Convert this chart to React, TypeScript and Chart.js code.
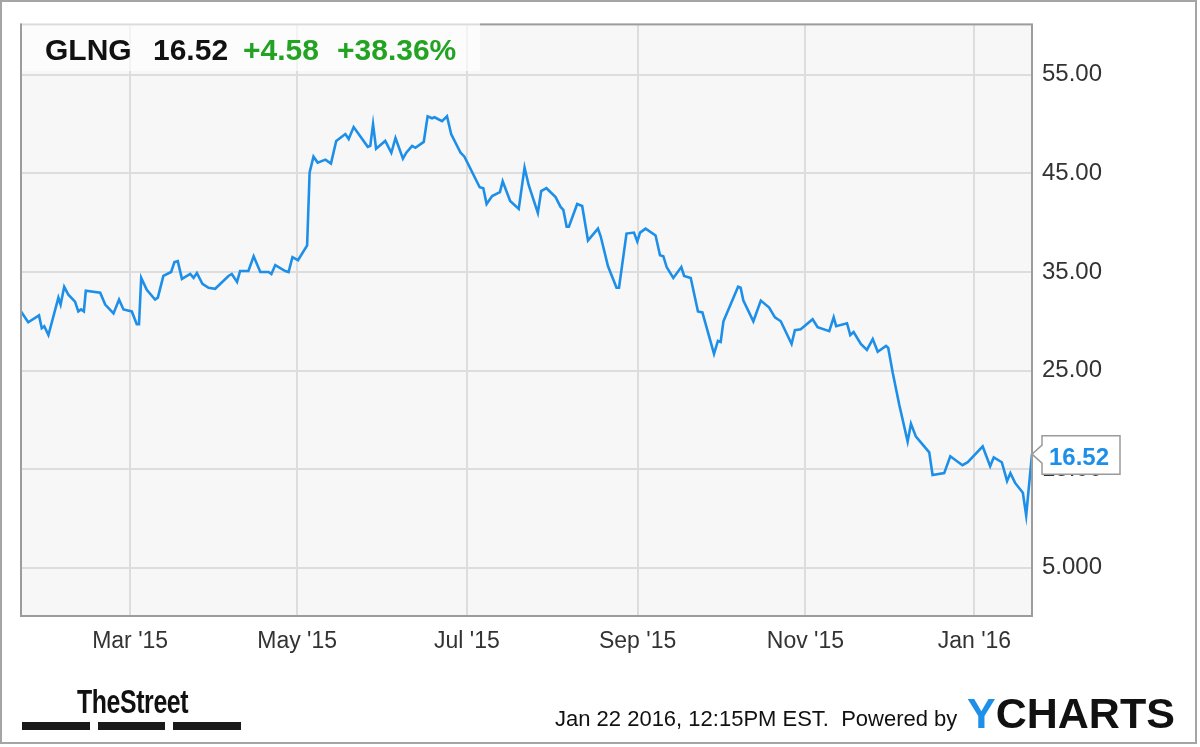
import React, { useEffect, useRef } from "react";
import { Chart, registerables } from "chart.js";

Chart.register(...registerables);

const tickerSymbol = "GLNG";
const lastPriceText = "16.52";
const changeText = "+4.58";
const changePctText = "+38.36%";
const timestampText = "Jan 22 2016, 12:15PM EST.  Powered by";

const monthLabels = ["Mar '15", "May '15", "Jul '15", "Sep '15", "Nov '15", "Jan '16"];
// day offsets from Jan 22 2015
const monthTickDays = [39.4, 99.7, 161, 222.6, 283.2, 344.2];
const priceTicks = [5, 15, 25, 35, 45, 55];

const tradingDays = [
  0, 2.6, 6.5, 7.5, 8.4, 9.9, 13.5, 14.3, 15.6, 17.1, 19.5, 20.7, 21.7, 22.7, 23.4, 28.6, 30.4, 33.4, 35.4, 37.0,
  40.0, 41.8, 42.6, 43.4, 45.4, 48.4, 49.4, 51.4, 54.2, 55.4, 56.6, 58.1, 61.1, 62.3, 63.5, 65.5, 67.7, 70.1, 74.9, 76.1,
  78.0, 79.1, 82.1, 84.0, 86.4, 89.4, 90.4, 91.8, 95.4, 96.6, 98.0, 100.0, 103.3, 104.2, 105.6, 107.1, 109.9, 111.9, 113.8, 117.1,
  118.3, 120.1, 125.2, 126.1, 127.1, 128.2, 131.5, 133.7, 135.2, 137.9, 139.1, 141.2, 142.4, 145.4, 146.8, 148.4, 149.3, 152.0, 153.8, 155.3,
  158.7, 160.1, 165.6, 166.9, 168.1, 170.1, 172.9, 173.9, 176.6, 179.7, 181.8, 183.3, 186.6, 187.8, 189.7, 193.0, 194.8, 195.8, 197.0, 197.8,
  200.8, 202.6, 204.7, 208.3, 209.3, 211.9, 215.0, 215.9, 218.6, 221.3, 222.5, 223.5, 225.5, 229.1, 230.7, 231.9, 233.1, 235.5, 238.4, 239.4,
  241.8, 244.4, 246.0, 250.2, 251.6, 252.6, 253.6, 258.9, 259.8, 260.8, 264.4, 267.1, 270.1, 272.2, 274.3, 278.2, 279.4, 281.5, 285.8, 287.6,
  291.8, 293.4, 294.3, 298.2, 299.4, 300.6, 303.2, 305.4, 307.5, 309.3, 312.3, 313.1, 314.7, 317.1, 320.1, 321.3, 323.1, 327.9, 329.1, 333.3,
  335.5, 339.9, 341.8, 347.2, 349.9, 351.2, 354.1, 356.0, 357.2, 358.9, 361.7, 362.9, 365.0,
];

const prices = [
  31.0, 29.9, 30.6, 29.3, 29.5, 28.6, 32.4, 31.7, 33.5, 32.7, 32.0, 31.0, 31.2, 31.0, 33.1, 32.9, 31.7, 30.8, 32.2, 31.2,
  31.0, 29.7, 29.7, 34.4, 33.2, 32.2, 32.4, 34.6, 35.0, 36.0, 36.1, 34.3, 34.8, 34.4, 34.9, 33.8, 33.4, 33.3, 34.6, 34.8,
  34.0, 35.1, 35.1, 36.6, 35.0, 35.0, 34.8, 35.7, 35.1, 35.0, 36.5, 36.2, 37.7, 45.1, 46.7, 46.1, 46.4, 46.0, 48.3, 49.0,
  48.5, 49.7, 47.7, 47.8, 50.0, 47.5, 48.3, 47.1, 48.6, 46.5, 47.1, 47.8, 47.6, 48.2, 50.8, 50.6, 50.7, 50.3, 50.8, 49.0,
  47.1, 46.7, 43.6, 43.5, 41.9, 42.7, 43.1, 44.2, 42.2, 41.4, 45.6, 43.8, 41.0, 43.2, 43.5, 42.6, 41.6, 41.3, 39.6, 39.6,
  41.9, 41.7, 38.2, 39.4, 38.6, 35.6, 33.4, 33.4, 38.9, 39.0, 38.1, 39.0, 39.4, 38.7, 36.7, 36.6, 35.5, 34.4, 35.5, 34.6,
  34.4, 31.0, 30.9, 26.7, 28.0, 27.9, 30.0, 33.5, 33.4, 32.1, 30.0, 32.1, 31.4, 30.4, 30.0, 27.7, 29.1, 29.2, 30.2, 29.4,
  29.0, 30.4, 29.5, 29.8, 28.6, 28.9, 27.7, 27.1, 28.2, 26.9, 27.5, 27.3, 24.8, 21.5, 17.8, 19.6, 18.3, 16.7, 14.4, 14.6,
  16.3, 15.4, 15.7, 17.3, 15.3, 16.2, 15.7, 13.8, 14.6, 13.6, 12.6, 10.3, 16.52,
];

const LINE_BLUE = "#1e8fe8";
const FONT = "'Liberation Sans', Arial, sans-serif";

const framePlugin = {
  id: "framePlugin",
  beforeDraw(chart: any) {
    const { ctx, chartArea } = chart;
    ctx.save();
    ctx.fillStyle = "#f7f7f7";
    ctx.fillRect(chartArea.left, chartArea.top, chartArea.right - chartArea.left, chartArea.bottom - chartArea.top);
    ctx.restore();
  },
  afterDraw(chart: any) {
    const { ctx, chartArea } = chart;
    ctx.save();
    ctx.strokeStyle = "#9c9c9c";
    ctx.lineWidth = 2;
    ctx.strokeRect(chartArea.left, chartArea.top, chartArea.right - chartArea.left, chartArea.bottom - chartArea.top);

    // last price label
    const meta = chart.getDatasetMeta(0);
    const last = meta.data[meta.data.length - 1];
    const px = chartArea.right;
    const py = last.y;
    const bl = px + 10;
    const br = px + 88;
    const bt = py - 18.5;
    const bb = py + 20;
    ctx.beginPath();
    ctx.moveTo(bl, bt);
    ctx.lineTo(br, bt);
    ctx.lineTo(br, bb);
    ctx.lineTo(bl, bb);
    ctx.lineTo(bl, py + 9);
    ctx.lineTo(px, py);
    ctx.lineTo(bl, py - 9);
    ctx.closePath();
    ctx.fillStyle = "#ffffff";
    ctx.fill();
    ctx.strokeStyle = "#9a9a9a";
    ctx.lineWidth = 1.5;
    ctx.stroke();
    ctx.fillStyle = LINE_BLUE;
    ctx.font = `bold 24px ${FONT}`;
    ctx.textBaseline = "alphabetic";
    ctx.textAlign = "left";
    const lastVal = prices[prices.length - 1];
    ctx.fillText(lastVal.toFixed(2), bl + 7, py + 10.5);
    ctx.restore();
  },
};

function baselineTop(baseline: number, size: number) {
  return baseline - 0.8465 * size;
}

export default function App() {
  const canvasRef = useRef<HTMLCanvasElement | null>(null);

  useEffect(() => {
    const canvas = canvasRef.current;
    if (!canvas) return;
    const chart = new Chart(canvas, {
      type: "line",
      data: {
        datasets: [
          {
            data: tradingDays.map((d, i) => ({ x: d, y: prices[i] })),
            borderColor: LINE_BLUE,
            borderWidth: 2.6,
            pointRadius: 0,
            tension: 0,
            fill: false,
          },
        ],
      },
      options: {
        animation: false,
        responsive: false,
        devicePixelRatio: 1,
        layout: { padding: { left: 21, top: 21, right: 0, bottom: 0 } },
        plugins: { legend: { display: false }, tooltip: { enabled: false }, title: { display: false } },
        scales: {
          x: {
            type: "linear",
            position: "bottom",
            min: 0,
            max: 365,
            bounds: "data",
            afterBuildTicks: (s: any) => {
              s.ticks = monthTickDays.map((v) => ({ value: v }));
            },
            afterFit: (s: any) => {
              s.height = 131;
            },
            ticks: {
              autoSkip: false,
              maxRotation: 0,
              minRotation: 0,
              padding: 12,
              color: "#333333",
              font: { family: FONT, size: 23 },
              callback: (_v: any, i: number) => monthLabels[i],
            },
            grid: { color: "#dddddd", lineWidth: 2, drawTicks: false },
            border: { display: false },
          },
          y: {
            type: "linear",
            position: "right",
            min: 0.1,
            max: 60.12,
            bounds: "data",
            afterBuildTicks: (s: any) => {
              s.ticks = priceTicks.map((v) => ({ value: v }));
            },
            afterFit: (s: any) => {
              s.width = 168;
            },
            ticks: {
              padding: 10,
              color: "#333333",
              font: { family: FONT, size: 24 },
              callback: (v: any) => (Number(v) < 10 ? Number(v).toFixed(3) : Number(v).toFixed(2)),
            },
            grid: { color: "#dddddd", lineWidth: 2, drawTicks: false },
            border: { display: false },
          },
        },
      } as any,
      plugins: [framePlugin],
    });
    return () => chart.destroy();
  }, []);

  const hdr = 30;
  const hdrTop = baselineTop(60, hdr);
  const hdrStyle = (left: number, color: string): React.CSSProperties => ({
    position: "absolute",
    left,
    top: hdrTop,
    fontFamily: FONT,
    fontWeight: "bold",
    fontSize: hdr,
    lineHeight: `${hdr}px`,
    color,
    whiteSpace: "nowrap",
  });

  return (
    <div style={{ position: "fixed", left: 0, top: 0, width: 1200, height: 747, background: "#ffffff", overflow: "hidden" }}>
      <div
        style={{
          position: "absolute",
          left: 0,
          top: 0,
          width: 1197,
          height: 744,
          border: "2px solid #a5a5a5",
          boxSizing: "border-box",
        }}
      />
      <canvas ref={canvasRef} width={1200} height={747} style={{ position: "absolute", left: 0, top: 0, width: 1200, height: 747 }} />
      <div
        style={{
          position: "absolute",
          left: 22,
          top: 22,
          width: 458,
          height: 49,
          background: "rgba(255,255,255,0.65)",
        }}
      />
      <div style={hdrStyle(45, "#111111")}>{tickerSymbol}</div>
      <div style={hdrStyle(153, "#111111")}>{lastPriceText}</div>
      <div style={hdrStyle(243, "#22a322")}>{changeText}</div>
      <div style={hdrStyle(337, "#22a322")}>{changePctText}</div>

      <div
        style={{
          position: "absolute",
          left: 77,
          top: baselineTop(713, 34),
          fontFamily: FONT,
          fontWeight: "bold",
          fontSize: 34,
          lineHeight: "34px",
          letterSpacing: -0.5,
          color: "#111111",
          transform: "scaleX(0.73)",
          transformOrigin: "left top",
          whiteSpace: "nowrap",
        }}
      >
        TheStreet
      </div>
      <div style={{ position: "absolute", left: 22, top: 722, width: 68, height: 8, background: "#1a1a1a" }} />
      <div style={{ position: "absolute", left: 98, top: 722, width: 67, height: 8, background: "#1a1a1a" }} />
      <div style={{ position: "absolute", left: 173, top: 722, width: 68, height: 8, background: "#1a1a1a" }} />

      <div
        style={{
          position: "absolute",
          left: 555,
          top: baselineTop(727, 22),
          fontFamily: FONT,
          fontSize: 22,
          lineHeight: "22px",
          color: "#111111",
          whiteSpace: "pre",
        }}
      >
        {timestampText}
      </div>
      <div
        style={{
          position: "absolute",
          left: 967,
          top: baselineTop(728, 43),
          fontFamily: FONT,
          fontWeight: "bold",
          fontSize: 43,
          lineHeight: "43px",
          color: "#111111",
          whiteSpace: "nowrap",
        }}
      >
        <span style={{ color: "#1e90e8" }}>Y</span>CHARTS
      </div>
    </div>
  );
}
